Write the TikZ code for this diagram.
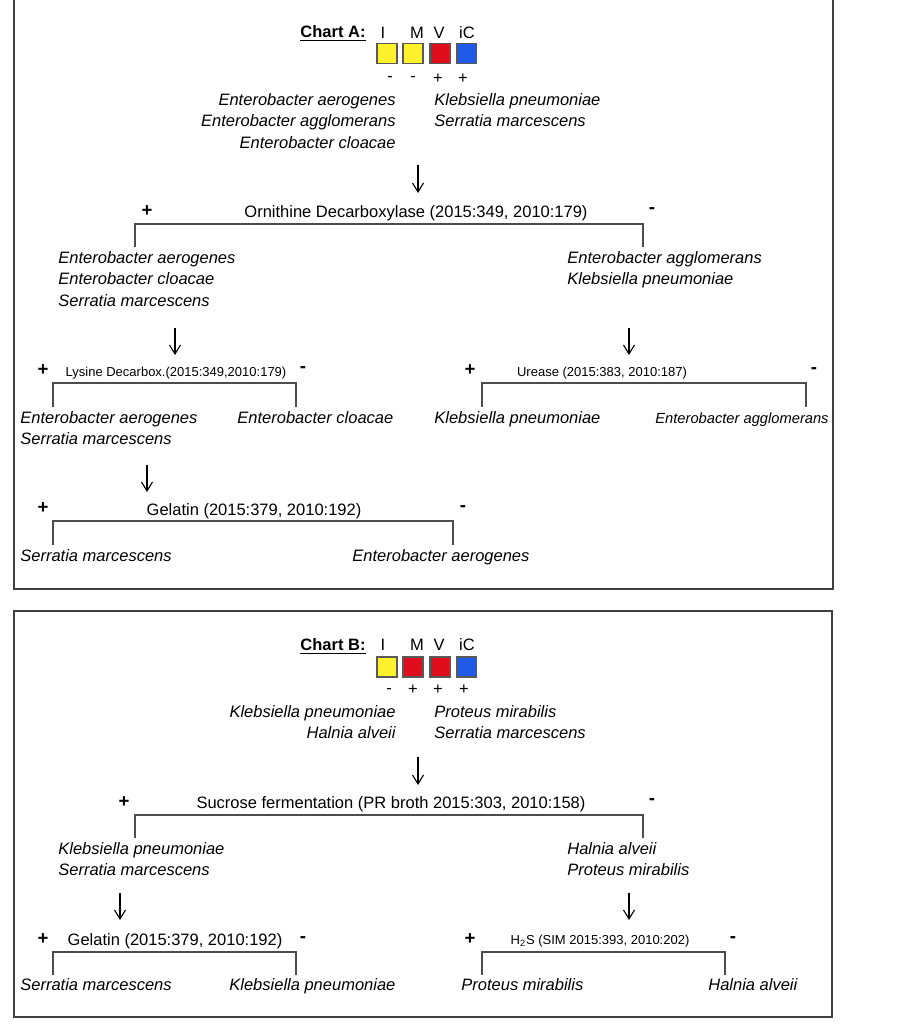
\documentclass[tikz,border=0pt]{standalone}
\usepackage{fontspec}
\setmainfont{Liberation Sans}
\usepackage{xcolor}
\usepackage{tikz}
\usetikzlibrary{arrows.meta}
\definecolor{imvYellow}{RGB}{255,242,45}
\definecolor{imvRed}{RGB}{222,14,28}
\definecolor{imvBlue}{RGB}{30,90,230}
\newcommand{\spfont}{\fontsize{8.25}{10.75}\selectfont}
\newcommand{\smlfont}{\fontsize{6.5}{8}\selectfont}
\newcommand{\midfont}{\fontsize{7.35}{10}\selectfont}
\newcommand{\sgnfont}{\fontsize{9.3}{10}\selectfont}
\tikzstyle{chartbox} = [draw=black!75, line width=0.75pt]
\tikzstyle{species} = [inner sep=0pt, font=\spfont\itshape]
\tikzstyle{testlabel} = [inner sep=0pt, font=\spfont]
\tikzstyle{smalllabel} = [inner sep=0pt, font=\smlfont]
\tikzstyle{sign} = [inner sep=0pt, font=\sgnfont\bfseries]
\tikzstyle{title} = [inner sep=0pt, font=\spfont]
\tikzstyle{swatch} = [draw=black!65, line width=0.6pt, minimum size=10pt, inner sep=0pt]
\tikzstyle{bracket} = [draw=black!70, line width=0.7pt]
\tikzstyle{arrow} = [line width=0.55pt, -{Straight Barb[length=4.5pt,width=5.5pt]}]

\begin{document}
\begin{tikzpicture}[x=0.5pt, y=-0.5pt]
    \fill[white] (0,0) rectangle (920,1024);
    \useasboundingbox (0,0) rectangle (920,1024);

    % ---------------- Chart A ----------------
    \draw[chartbox] (14,-10) rectangle (833,589);
    \node (titleA) [title] at (333,34) {\underline{\textbf{Chart A:}}};
    \node (iA) [title] at (383,33) {I};
    \node (mA) [title] at (417,33) {M};
    \node (vA) [title] at (439,33) {V};
    \node (cA) [title] at (467,33) {iC};
    \node (sqA1) [swatch, fill=imvYellow] at (387,53.5) {};
    \node (sqA2) [swatch, fill=imvYellow] at (413,53.5) {};
    \node (sqA3) [swatch, fill=imvRed] at (440,53.5) {};
    \node (sqA4) [swatch, fill=imvBlue] at (466.5,53.5) {};
    \node (pmA1) [title] at (390,79) {-};
    \node (pmA2) [title] at (413,79) {-};
    \node (pmA3) [title] at (438,79) {+};
    \node (pmA4) [title] at (463,79) {+};
    \node (spA0L) [species, anchor=north east, align=right] at (396,93)
        {Enterobacter aerogenes\\Enterobacter agglomerans\\Enterobacter cloacae};
    \node (spA0R) [species, anchor=north west, align=left] at (434,93)
        {Klebsiella pneumoniae\\Serratia marcescens};
    \coordinate (arA0s) at (418,165);
    \coordinate (arA0e) at (418,193);
    \draw [arrow] (arA0s) -- (arA0e);

    % ornithine
    \node (ornP) [sign] at (147,211) {+};
    \node (orn) [testlabel] at (416,213) {Ornithine Decarboxylase (2015:349, 2010:179)};
    \node (ornM) [sign] at (652,211) {-};
    \coordinate (ornL) at (135,247);
    \coordinate (ornR) at (643,247);
    \draw [bracket] (ornL) -- ++(0,-23) -| (ornR);
    \node (spA1L) [species, anchor=north west, align=left] at (58,251)
        {Enterobacter aerogenes\\Enterobacter cloacae\\Serratia marcescens};
    \node (spA1R) [species, anchor=north west, align=left] at (567,251)
        {Enterobacter agglomerans\\Klebsiella pneumoniae};
    \coordinate (arA1s) at (175,328);
    \coordinate (arA1e) at (175,355);
    \coordinate (arA2s) at (629,328);
    \coordinate (arA2e) at (629,355);
    \draw [arrow] (arA1s) -- (arA1e);
    \draw [arrow] (arA2s) -- (arA2e);

    % lysine
    \node (lysP) [sign] at (43,370) {+};
    \node (lys) [smalllabel] at (176,373) {Lysine Decarbox.(2015:349,2010:179)};
    \node (lysM) [sign] at (303,370) {-};
    \coordinate (lysL) at (53,407);
    \coordinate (lysR) at (296,407);
    \draw [bracket] (lysL) -- ++(0,-24) -| (lysR);

    % urease
    \node (ureP) [sign] at (470,370) {+};
    \node (ure) [smalllabel] at (602,373) {Urease (2015:383, 2010:187)};
    \node (ureM) [sign] at (814,371) {-};
    \coordinate (ureL) at (482,407);
    \coordinate (ureR) at (806,407);
    \draw [bracket] (ureL) -- ++(0,-24) -| (ureR);

    \node (spA2a) [species, anchor=north west, align=left] at (20,411)
        {Enterobacter aerogenes\\Serratia marcescens};
    \node (spA2b) [species, anchor=north west] at (237,411) {Enterobacter cloacae};
    \node (spA2c) [species, anchor=north west] at (434,411) {Klebsiella pneumoniae};
    \node (spA2d) [species, anchor=north west, font=\midfont\itshape] at (655,412) {Enterobacter agglomerans};
    \coordinate (arA3s) at (147,465);
    \coordinate (arA3e) at (147,492);
    \draw [arrow] (arA3s) -- (arA3e);

    % gelatin A
    \node (gelAP) [sign] at (43,508) {+};
    \node (gelA) [testlabel] at (254,511) {Gelatin (2015:379, 2010:192)};
    \node (gelAM) [sign] at (463,509) {-};
    \coordinate (gelAL) at (53,545);
    \coordinate (gelAR) at (453,545);
    \draw [bracket] (gelAL) -- ++(0,-24) -| (gelAR);
    \node (spA3a) [species, anchor=north west] at (20,549) {Serratia marcescens};
    \node (spA3b) [species, anchor=north west] at (352,549) {Enterobacter aerogenes};

    % ---------------- Chart B ----------------
    \draw[chartbox] (14,611) rectangle (832,1017);
    \node (titleB) [title] at (333,647) {\underline{\textbf{Chart B:}}};
    \node (iB) [title] at (383,645) {I};
    \node (mB) [title] at (417,645) {M};
    \node (vB) [title] at (439,645) {V};
    \node (cB) [title] at (467,645) {iC};
    \node (sqB1) [swatch, fill=imvYellow] at (387,667) {};
    \node (sqB2) [swatch, fill=imvRed] at (413,667) {};
    \node (sqB3) [swatch, fill=imvRed] at (440,667) {};
    \node (sqB4) [swatch, fill=imvBlue] at (466.5,667) {};
    \node (pmB1) [title] at (389,691) {-};
    \node (pmB2) [title] at (413,690) {+};
    \node (pmB3) [title] at (438,690) {+};
    \node (pmB4) [title] at (464,690) {+};
    \node (spB0L) [species, anchor=north east, align=right] at (396,705)
        {Klebsiella pneumoniae\\Halnia alveii};
    \node (spB0R) [species, anchor=north west, align=left] at (434,705)
        {Proteus mirabilis\\Serratia marcescens};
    \coordinate (arB0s) at (418,757);
    \coordinate (arB0e) at (418,785);
    \draw [arrow] (arB0s) -- (arB0e);

    % sucrose
    \node (sucP) [sign] at (124,802) {+};
    \node (suc) [testlabel] at (391,804) {Sucrose fermentation (PR broth 2015:303, 2010:158)};
    \node (sucM) [sign] at (652,802) {-};
    \coordinate (sucL) at (135,838);
    \coordinate (sucR) at (643,838);
    \draw [bracket] (sucL) -- ++(0,-23) -| (sucR);
    \node (spB1L) [species, anchor=north west, align=left] at (58,842)
        {Klebsiella pneumoniae\\Serratia marcescens};
    \node (spB1R) [species, anchor=north west, align=left] at (567,842)
        {Halnia alveii\\Proteus mirabilis};
    \coordinate (arB1s) at (120,893);
    \coordinate (arB1e) at (120,920);
    \coordinate (arB2s) at (629,893);
    \coordinate (arB2e) at (629,920);
    \draw [arrow] (arB1s) -- (arB1e);
    \draw [arrow] (arB2s) -- (arB2e);

    % gelatin B
    \node (gelBP) [sign] at (43,939) {+};
    \node (gelB) [testlabel] at (175,941) {Gelatin (2015:379, 2010:192)};
    \node (gelBM) [sign] at (303,940) {-};
    \coordinate (gelBL) at (53,975);
    \coordinate (gelBR) at (296,975);
    \draw [bracket] (gelBL) -- ++(0,-23) -| (gelBR);

    % H2S
    \node (hsP) [sign] at (470,939) {+};
    \node (hs) [smalllabel] at (600,941) {H\textsubscript{2}S (SIM 2015:393, 2010:202)};
    \node (hsM) [sign] at (733,940) {-};
    \coordinate (hsL) at (482,975);
    \coordinate (hsR) at (725,975);
    \draw [bracket] (hsL) -- ++(0,-23) -| (hsR);

    \node (spB2a) [species, anchor=north west] at (20,978) {Serratia marcescens};
    \node (spB2b) [species, anchor=north west] at (229,978) {Klebsiella pneumoniae};
    \node (spB2c) [species, anchor=north west] at (461,978) {Proteus mirabilis};
    \node (spB2d) [species, anchor=north west] at (708,978) {Halnia alveii};
\end{tikzpicture}
\end{document}
